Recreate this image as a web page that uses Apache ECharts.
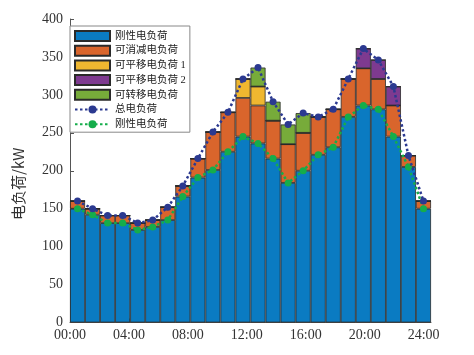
<!DOCTYPE html>
<html><head><meta charset="utf-8">
<script src="https://cdn.jsdelivr.net/npm/echarts@6/dist/echarts.min.js"></script>
<style>html,body{margin:0;padding:0;background:#fff}#c{width:474px;height:355px}</style>
</head><body><div id="c"></div>
<script>
const slots = ['00:00','01:00','02:00','03:00','04:00','05:00','06:00','07:00','08:00','09:00','10:00','11:00','12:00','13:00','14:00','15:00','16:00','17:00','18:00','19:00','20:00','21:00','22:00','23:00'];
const rigid    = [150,142,131,131,122,126,135,166,191,201,225,245,236,216,184,200,221,231,271,286,281,245,205,150];
const curtail  = [10,8,10,10,9,9,17,14,25,50,52,51,50,50,51,50,50,50,50,49,40,41,15,10];
const shift1   = [0,0,0,0,0,0,0,0,0,0,0,25,25,0,0,0,0,0,0,0,0,0,0,0];
const shift2   = [0,0,0,0,0,0,0,0,0,0,0,0,0,0,0,0,0,0,0,26,25,25,0,0];
const transfer = [0,0,0,0,0,0,0,0,0,0,0,0,25,25,26,26,0,0,0,0,0,0,0,0];
const total    = [160,150,141,141,131,135,152,180,216,251,277,321,336,291,261,276,271,281,321,361,346,311,220,160];
const tickHours  = [0,4,8,12,16,20,24];
const tickLabels = ['00:00','04:00','08:00','12:00','16:00','20:00','24:00'];
const names = ['刚性电负荷','可消减电负荷','可平移电负荷 1','可平移电负荷 2','可转移电负荷','总电负荷','刚性电负荷 '];

const serif = 'Liberation Serif, Noto Sans CJK SC';
const axisCol = '#555';
const chart = echarts.init(document.getElementById('c'));
const barS = (name, data, color) => ({
  name, type:'bar', stack:'load', xAxisIndex:0, data, barCategoryGap:'0%',
  itemStyle:{color, borderColor:'#2a2a2a', borderWidth:0.8}, emphasis:{disabled:true}
});
chart.setOption({
  animation:false,
  backgroundColor:'#fff',
  grid:{left:70, right:43, top:19, bottom:32.5},
  xAxis:[
    {type:'category', data:slots, show:false, boundaryGap:true},
    {type:'value', min:0, max:24.5, position:'bottom',
     axisLine:{show:true, onZero:false, lineStyle:{color:axisCol, width:1}},
     axisTick:{show:true, inside:true, length:4, customValues:tickHours, lineStyle:{color:axisCol}},
     axisLabel:{customValues:tickHours, margin:6, color:'#333', fontSize:14, fontFamily:serif,
       formatter:v=>tickLabels[tickHours.indexOf(v)]},
     splitLine:{show:false}}
  ],
  yAxis:{type:'value', min:0, max:400, interval:50,
    name:'电负荷/kW', nameLocation:'middle', nameGap:44,
    nameTextStyle:{fontSize:15, color:'#333', fontFamily:'Noto Sans CJK SC', padding:[0,26,0,0]},
    axisLine:{show:true, lineStyle:{color:axisCol, width:1}},
    axisTick:{show:true, inside:true, length:4, lineStyle:{color:axisCol}},
    axisLabel:{margin:7, color:'#333', fontSize:14, fontFamily:serif},
    splitLine:{show:false}},
  legend:{orient:'vertical', left:70, top:26, padding:[4,4,2,4], itemWidth:35, itemHeight:10, itemGap:2.7,
    borderColor:'#888', borderWidth:1, backgroundColor:'#fff',
    textStyle:{fontSize:10.5, lineHeight:12, color:'#222', fontFamily:serif},
    data:[{name:names[0],icon:'rect'},{name:names[1],icon:'rect'},{name:names[2],icon:'rect'},
          {name:names[3],icon:'rect'},{name:names[4],icon:'rect'},names[5],names[6]]},
  series:[
    barS(names[0], rigid, '#0a7bc2'),
    barS(names[1], curtail, '#d9652c'),
    barS(names[2], shift1, '#efb730'),
    barS(names[3], shift2, '#7e3a90'),
    barS(names[4], transfer, '#77ab3a'),
    {name:names[5], type:'line', xAxisIndex:0, data:total, z:4,
     lineStyle:{color:'#2b3990', width:2.5, type:[2.5,2.5]}, itemStyle:{color:'#2b3990'},
     symbol:'circle', symbolSize:7, emphasis:{disabled:true}},
    {name:names[6], type:'line', xAxisIndex:0, data:rigid, z:3,
     lineStyle:{color:'#15ad4b', width:2.5, type:[2.5,2.5]}, itemStyle:{color:'#15ad4b'},
     symbol:'circle', symbolSize:7, emphasis:{disabled:true}}
  ]
});
</script></body></html>
